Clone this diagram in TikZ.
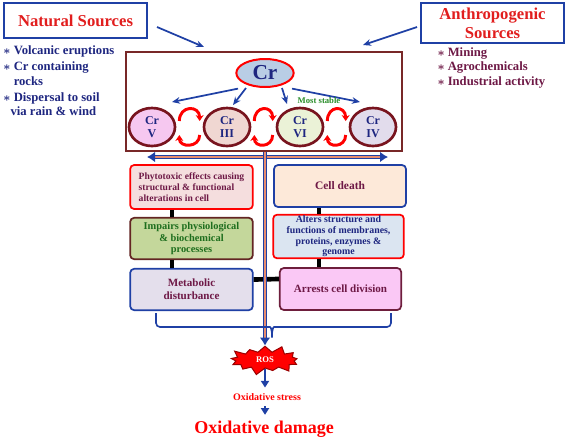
\documentclass[tikz,border=0pt]{standalone}
\usepackage{fontspec}
\setmainfont{Liberation Serif}
\usetikzlibrary{arrows.meta,shapes.geometric,shapes.symbols}

\definecolor{srcblue}{RGB}{31,64,165}
\definecolor{navy}{RGB}{30,38,128}
\definecolor{plum}{RGB}{110,25,70}
\definecolor{srcred}{RGB}{225,30,30}
\definecolor{brownbox}{RGB}{120,40,40}
\definecolor{ringred}{RGB}{120,20,30}
\definecolor{crfill}{RGB}{185,205,229}
\definecolor{vfill}{RGB}{246,200,240}
\definecolor{iiifill}{RGB}{240,215,210}
\definecolor{vifill}{RGB}{235,242,215}
\definecolor{ivfill}{RGB}{226,220,236}
\definecolor{phytofill}{RGB}{245,222,222}
\definecolor{impfill}{RGB}{196,215,155}
\definecolor{impline}{RGB}{99,37,35}
\definecolor{metafill}{RGB}{228,223,236}
\definecolor{deathfill}{RGB}{253,233,217}
\definecolor{altfill}{RGB}{219,229,241}
\definecolor{arrfill}{RGB}{250,200,245}
\definecolor{arrline}{RGB}{110,30,60}
\definecolor{salmon}{RGB}{232,140,110}
\definecolor{impgreen}{RGB}{30,110,30}
\definecolor{stablegreen}{RGB}{40,140,40}

\tikzset{every picture/.style={line width=0.75pt}}
\tikzset{
  srcbox/.style={draw=srcblue, line width=1.6pt, text=srcred, align=center,
    font=\bfseries\fontsize{12.5}{14}\selectfont},
  srcarrow/.style={draw=srcblue, line width=1.3pt, -{Stealth[length=6pt,width=5pt]}},
  ring/.style={ellipse, draw=ringred, line width=2pt, minimum width=34.5pt,
    minimum height=28.5pt, inner sep=0pt, text=navy, align=center,
    font=\bfseries\fontsize{9}{9.5}\selectfont},
  swap/.style={draw=red, line width=2.2pt, -{Stealth[length=4.5pt,width=6pt]}},
  pipe/.style={draw=srcblue, double=salmon, double distance=1.4pt, line width=1.1pt},
  effbox/.style={rectangle, rounded corners=3pt, line width=1.3pt, inner sep=1pt,
    align=center, font=\bfseries\fontsize{7.2}{8.3}\selectfont},
  link/.style={draw=black, line width=3.5pt},
  downarrow/.style={draw=srcblue, line width=2.2pt, -{Triangle[length=5pt,width=6pt]}}
}

\begin{document}
\begin{tikzpicture}[x=0.75pt,y=0.75pt,yscale=-1,xscale=1]
	\useasboundingbox (0,0) rectangle (567,440);

	% Source boxes
	\node[srcbox, minimum width=107pt, minimum height=26pt] (nat) at (75.5,20.5) {Natural Sources};
	\node[srcbox, minimum width=107pt, minimum height=30pt] (anth) at (492.5,23) {Anthropogenic\\Sources};

	% Text Node
	\node[anchor=north west, inner sep=0pt, align=left, text=navy,
	  font=\boldmath\bfseries\fontsize{9.5}{10.8}\selectfont] (natlist) at (3,45)
	  {$\ast$ Volcanic eruptions\\[1.5pt]
	   $\ast$ Cr containing\\
	   \phantom{$\ast$} rocks\\[1.5pt]
	   $\ast$ Dispersal to soil\\
	   \phantom{$\ast$}via rain \& wind};
	% Text Node
	\node[anchor=north west, inner sep=0pt, align=left, text=plum,
	  font=\boldmath\bfseries\fontsize{9.5}{10.9}\selectfont] (anthlist) at (437,47)
	  {$\ast$ Mining\\
	   $\ast$ Agrochemicals\\
	   $\ast$ Industrial activity};

	% Chromium box
	\node[draw=brownbox, line width=1.2pt, minimum width=207pt, minimum height=74.25pt] (crbox) at (264,101.5) {};
	\coordinate (natfrom) at (157,27);
	\coordinate (natto) at (204,47);
	\coordinate (anthfrom) at (417,27);
	\coordinate (anthto) at (363,45);
	\draw[srcarrow] (natfrom) -- (natto);
	\draw[srcarrow] (anthfrom) -- (anthto);

	\node[ellipse, draw=red, line width=1.5pt, fill=crfill, minimum width=43pt, minimum height=21pt,
	  inner sep=0pt, text=navy, font=\bfseries\fontsize{16}{16}\selectfont] (cr) at (265,73) {Cr};

	\node[ring, fill=vfill] (crv) at (152,127) {Cr\\V};
	\node[ring, fill=iiifill] (criii) at (227,127) {Cr\\III};
	\node[ring, fill=vifill] (crvi) at (300,127) {Cr\\VI};
	\node[ring, fill=ivfill] (criv) at (373,127) {Cr\\IV};

	\draw[srcarrow] ([shift={(-6,5)}]cr.south west) -- ([shift={(20,-25)}]crv.center);
	\draw[srcarrow] ([shift={(-19,0)}]cr.south) -- ([shift={(6,-22)}]criii.center);
	\draw[srcarrow] ([shift={(17,0)}]cr.south) -- ([shift={(-13,-23)}]crvi.center);
	\draw[srcarrow] ([shift={(6,5)}]cr.south east) -- ([shift={(-13,-25)}]criv.center);

	% Text Node
	\node[text=stablegreen, font=\bfseries\fontsize{6.5}{7}\selectfont] (stable) at (319,101) {Most stable};

	% interconversion arcs
	\draw[swap] ([shift={(3,-6)}]crv.east) .. controls +(0,-16) and +(0,-16) .. ([shift={(-3,-6)}]criii.west);
	\draw[swap] ([shift={(-3,8)}]criii.west) .. controls +(0,13) and +(0,13) .. ([shift={(3,8)}]crv.east);
	\draw[swap] ([shift={(3,-6)}]criii.east) .. controls +(0,-16) and +(0,-16) .. ([shift={(-3,-6)}]crvi.west);
	\draw[swap] ([shift={(-3,8)}]crvi.west) .. controls +(0,13) and +(0,13) .. ([shift={(3,8)}]criii.east);
	\draw[swap] ([shift={(3,-6)}]crvi.east) .. controls +(0,-16) and +(0,-16) .. ([shift={(-3,-6)}]criv.west);
	\draw[swap] ([shift={(-3,8)}]criv.west) .. controls +(0,13) and +(0,13) .. ([shift={(3,8)}]crvi.east);

	% Effect boxes
	\node[effbox, draw=red, fill=phytofill, text=plum, minimum width=92pt, minimum height=33pt, align=left] (phyto) at (191.5,187)
	  {Phytotoxic effects causing\\structural \& functional\\alterations in cell};
	\node[effbox, draw=impline, fill=impfill, text=impgreen, minimum width=92pt, minimum height=31pt,
	  font=\bfseries\fontsize{7.8}{8.6}\selectfont] (imp) at (191.5,238.5)
	  {Impairs physiological\\\& biochemical\\processes};
	\node[effbox, draw=srcblue, fill=metafill, text=plum, minimum width=92pt, minimum height=31pt,
	  font=\bfseries\fontsize{8.3}{9.6}\selectfont] (meta) at (191.5,289.5)
	  {Metabolic\\disturbance};
	\node[effbox, draw=srcblue, fill=deathfill, text=plum, minimum width=99pt, minimum height=31.5pt,
	  font=\bfseries\fontsize{8.6}{9.6}\selectfont] (death) at (340,186) {Cell death};
	\node[effbox, draw=red, fill=altfill, text=navy, minimum width=98pt, minimum height=31pt,
	  font=\bfseries\fontsize{7.4}{8}\selectfont] (alt) at (338.5,236.5)
	  {Alters structure and\\functions of membranes,\\proteins, enzymes \&\\genome};
	\node[effbox, draw=arrline, fill=arrfill, text=plum, minimum width=91pt, minimum height=31.5pt,
	  font=\bfseries\fontsize{8.3}{9.6}\selectfont] (arr) at (340.5,289) {Arrests cell division};

	% links
	\draw[link] ([shift={(-19.5,0)}]phyto.south) -- ([shift={(-19.5,0)}]imp.north);
	\draw[link] ([shift={(-19.5,0)}]imp.south) -- ([shift={(-19.5,0)}]meta.north);
	\draw[link] ([shift={(-21,0)}]death.south) -- ([shift={(-19.5,0)}]alt.north);
	\draw[link] ([shift={(-19.5,0)}]alt.south) -- ([shift={(-21.5,0)}]arr.north);
	\draw[link] ([shift={(0,-10)}]meta.east) -- ([shift={(0,-10)}]arr.west);

	% ROS
	\node[starburst, starburst points=13, starburst point height=6pt, fill=red, draw=red!60!black,
	  minimum width=56pt, minimum height=24pt, inner sep=0pt, text=white,
	  font=\bfseries\fontsize{6.5}{7}\selectfont] (ros) at (265,360) {ROS};

	% Pipes
	\coordinate (dleft) at (147,157);
	\coordinate (dright) at (388,157);
	\draw[pipe, {Latex[length=6pt,width=8pt]}-{Latex[length=6pt,width=8pt]}] (dleft) -- (dright);
	\draw[pipe, -{Latex[length=6pt,width=8pt]}] (crbox.south -| ros.north) -- (ros.north);

	% Brace
	\draw[srcblue, line width=1.2pt, rounded corners=3pt] (156,313) -- (156,327) -- (266,327)
	  .. controls (271,327) and (272,331) .. (272,340) .. controls (272,331) and (273,327) .. (278,327)
	  -- (391,327) -- (391,313);

	% Text Node
	\node[text=red, font=\bfseries\fontsize{7.5}{8}\selectfont] (stress) at (267,397) {Oxidative stress};
	% Text Node
	\node[text=red, font=\bfseries\fontsize{13.5}{14}\selectfont] (damage) at (264,429) {Oxidative damage};

	\draw[downarrow] (ros.south) -- ([shift={(0,-1)}]stress.north -| ros.south);
	\draw[downarrow] ([shift={(0,1)}]stress.south -| ros.south) -- ([shift={(0,-1)}]damage.north -| ros.south);

\end{tikzpicture}
\end{document}
